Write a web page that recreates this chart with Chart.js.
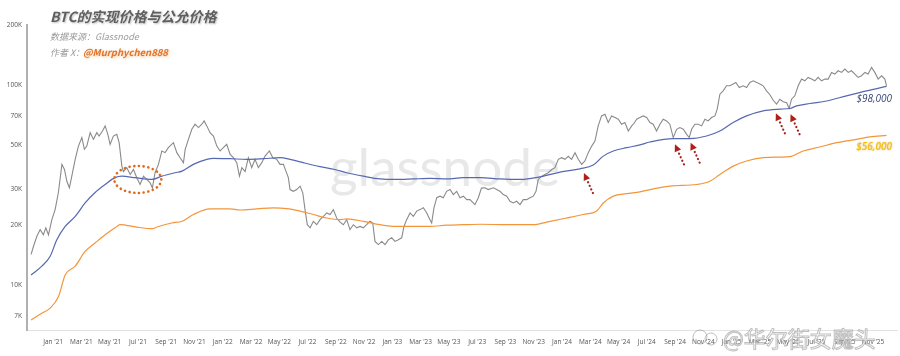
<!DOCTYPE html>
<html>
<head>
<meta charset="utf-8">
<script src="https://cdn.jsdelivr.net/npm/chart.js@4.4.1/dist/chart.umd.min.js"></script>
<style>
    html, body { margin: 0; padding: 0; background: #fff; }
    #wrap { width: 900px; height: 356px; }
</style>
</head>
<body>
<div id="wrap"><canvas id="chart" width="900" height="356"></canvas></div>
<script>
// month offsets from Jan 2021 (0 = Jan '21), values in thousands of USD
const priceMonths = [
    -1.56, -1.39, -1.15, -0.92, -0.69, -0.52, -0.33, -0.09, 0.14, 0.37,
    0.62, 0.80, 0.97, 1.15, 1.32, 1.56, 1.79, 2.03, 2.21, 2.38,
    2.62, 2.85, 3.09, 3.25, 3.49, 3.68, 3.87, 4.03, 4.26, 4.50,
    4.67, 4.86, 4.97, 5.21, 5.45, 5.68, 5.92, 6.15, 6.39, 6.63,
    6.86, 7.02, 7.21, 7.45, 7.69, 7.92, 8.15, 8.51, 8.75, 8.98,
    9.22, 9.34, 9.57, 9.81, 10.04, 10.28, 10.52, 10.68, 10.87, 11.10,
    11.34, 11.58, 11.81, 12.04, 12.28, 12.52, 12.75, 12.99, 13.18, 13.35,
    13.58, 13.81, 14.05, 14.28, 14.52, 14.76, 14.99, 15.30, 15.54, 15.82,
    16.05, 16.29, 16.48, 16.64, 16.76, 16.99, 17.23, 17.47, 17.66, 17.82,
    17.98, 18.18, 18.41, 18.65, 18.88, 19.12, 19.36, 19.59, 19.82, 20.06,
    20.30, 20.53, 20.77, 21.00, 21.24, 21.48, 21.71, 21.94, 22.18, 22.42,
    22.61, 22.77, 23.01, 23.25, 23.48, 23.71, 23.95, 24.19, 24.42, 24.66,
    24.82, 25.01, 25.25, 25.48, 25.72, 25.95, 26.19, 26.43, 26.66, 26.78,
    26.94, 27.14, 27.37, 27.60, 27.84, 28.08, 28.31, 28.55, 28.78, 29.02,
    29.26, 29.49, 29.84, 30.08, 30.30, 30.55, 30.78, 31.14, 31.38, 31.61,
    31.85, 32.09, 32.32, 32.55, 32.79, 33.03, 33.26, 33.50, 33.73, 33.97,
    34.16, 34.32, 34.56, 34.79, 35.03, 35.27, 35.50, 35.74, 35.98, 36.21,
    36.44, 36.68, 36.92, 37.15, 37.39, 37.62, 37.86, 38.10, 38.33, 38.56,
    38.80, 39.04, 39.27, 39.51, 39.75, 39.98, 40.22, 40.45, 40.69, 40.93,
    41.10, 41.28, 41.51, 41.75, 41.99, 42.22, 42.45, 42.69, 42.93, 43.16,
    43.40, 43.63, 43.87, 44.11, 44.34, 44.58, 44.82, 45.00, 45.17, 45.40,
    45.64, 45.88, 46.11, 46.34, 46.58, 46.82, 46.98, 47.17, 47.40, 47.64,
    47.88, 48.11, 48.30, 48.54, 48.82, 49.06, 49.29, 49.53, 49.77, 50.00,
    50.23, 50.47, 50.71, 50.94, 51.18, 51.41, 51.65, 51.89, 52.07, 52.24,
    52.47, 52.71, 52.95, 53.18, 53.41, 53.65, 53.89, 54.12, 54.36, 54.60,
    54.83, 55.07, 55.30, 55.54, 55.78, 56.01, 56.25, 56.48, 56.72, 56.95,
    57.19, 57.43, 57.66, 57.90, 58.13, 58.37, 58.61, 58.84, 58.96
];
const priceValues = [
    14.2, 15.6, 17.5, 18.9, 17.8, 19.3, 17.8, 21.2, 23.8, 29.0,
    40.1, 37.8, 33.0, 30.6, 35.0, 42.5, 49.5, 54.6, 47.7, 49.5,
    57.8, 53.5, 57.8, 55.6, 58.9, 62.5, 56.7, 50.5, 55.6, 56.7,
    51.5, 39.3, 36.9, 38.6, 35.7, 37.8, 34.4, 31.8, 35.0, 33.7,
    32.4, 30.6, 36.4, 40.1, 46.8, 45.9, 48.6, 51.5, 45.9, 43.3,
    40.9, 47.7, 53.5, 60.1, 63.7, 61.3, 63.7, 66.2, 62.5, 57.8,
    55.6, 49.5, 46.8, 48.6, 50.5, 45.0, 43.3, 40.9, 35.0, 38.6,
    36.9, 43.3, 38.6, 42.5, 38.6, 40.9, 44.1, 46.8, 43.3, 42.5,
    40.1, 40.1, 36.9, 34.4, 30.0, 29.4, 30.0, 31.2, 28.9, 23.8,
    20.0, 19.3, 20.8, 20.0, 21.2, 22.0, 22.9, 22.5, 23.8, 21.6,
    20.6, 20.0, 21.2, 18.9, 20.0, 19.3, 19.6, 19.3, 20.0, 20.8,
    20.4, 16.5, 15.9, 16.5, 15.9, 16.8, 17.2, 16.5, 16.8, 17.2,
    19.6, 21.2, 22.9, 22.0, 23.4, 23.8, 24.3, 22.9, 21.2, 20.4,
    24.3, 27.3, 27.8, 27.3, 29.4, 30.0, 28.3, 29.4, 27.3, 27.8,
    26.7, 26.7, 25.2, 27.3, 30.5, 30.6, 30.0, 30.6, 30.0, 29.4,
    28.3, 27.8, 26.2, 25.7, 26.2, 25.2, 26.7, 26.7, 27.3, 27.8,
    29.4, 33.7, 35.0, 35.7, 36.4, 37.8, 38.6, 42.5, 43.3, 42.5,
    44.0, 42.5, 45.9, 42.5, 40.1, 41.7, 45.9, 49.5, 52.5, 62.5,
    70.1, 71.5, 65.0, 70.1, 68.8, 67.5, 63.7, 65.0, 58.9, 62.5,
    64.4, 67.5, 68.8, 70.1, 68.8, 65.0, 63.7, 58.9, 63.7, 67.5,
    66.2, 63.7, 54.6, 60.1, 61.3, 60.1, 56.7, 54.6, 60.1, 63.7,
    63.7, 62.5, 67.5, 66.2, 68.8, 70.1, 75.8, 90.1, 93.6, 99.2,
    99.2, 101.2, 103.2, 97.3, 99.2, 97.3, 103.2, 105.1, 103.2, 101.2,
    99.2, 93.6, 89.5, 84.0, 80.3, 85.0, 82.5, 81.6, 76.5, 85.0,
    88.4, 99.2, 107.2, 105.1, 109.3, 107.2, 105.1, 109.3, 105.1, 107.2,
    107.2, 115.8, 113.6, 118.0, 115.8, 120.3, 115.8, 118.0, 113.6, 109.3,
    111.4, 115.8, 113.6, 122.7, 115.8, 107.2, 111.4, 107.2, 99.2
];

// 公允价格 (blue)
const fairMonths = [
    -1.56, -0.80, -0.21, 0.26, 0.85, 1.56, 2.26, 2.97, 3.68, 4.38,
    4.86, 5.80, 6.98, 7.69, 8.63, 9.12, 9.92, 10.87, 11.34, 12.52,
    13.70, 14.87, 16.05, 16.76, 17.70, 18.88, 19.94, 20.77, 21.94, 23.13,
    24.31, 25.48, 26.66, 27.84, 29.02, 30.21, 31.61, 33.03, 34.44, 35.86,
    37.27, 38.21, 38.92, 39.63, 40.57, 41.51, 42.22, 43.87, 45.05, 46.23,
    47.17, 48.11, 49.06, 50.23, 51.41, 52.12, 52.59, 53.54, 54.72, 56.13,
    57.55, 58.96
];
const fairValues = [
    11.2, 12.4, 13.9, 16.8, 19.6, 22.0, 25.7, 29.0, 31.8, 34.4,
    35.0, 34.4, 33.7, 35.0, 36.4, 37.1, 40.1, 42.5, 43.0, 42.8,
    42.5, 42.8, 43.3, 42.5, 40.9, 39.1, 37.8, 36.4, 35.0, 33.9,
    33.7, 33.9, 34.1, 33.9, 34.4, 34.4, 33.9, 33.7, 34.7, 36.7,
    38.1, 39.8, 44.1, 46.8, 48.6, 50.2, 51.9, 54.0, 54.0, 55.6,
    58.9, 65.0, 70.1, 74.3, 75.8, 76.4, 78.7, 80.9, 83.3, 88.4,
    93.6, 98.5
];

// 实现价格 (orange)
const realizedMonths = [
    -1.56, -0.80, -0.21, 0.38, 0.85, 1.56, 2.26, 2.97, 3.68, 4.38,
    4.74, 5.80, 6.98, 7.45, 8.39, 9.12, 9.92, 11.10, 12.52, 13.23,
    14.41, 15.58, 16.53, 17.47, 18.41, 19.36, 20.30, 20.77, 21.94, 23.13,
    24.31, 25.48, 26.66, 27.84, 29.02, 30.21, 32.09, 33.97, 34.91, 36.33,
    37.50, 38.45, 38.92, 39.63, 40.57, 41.51, 42.22, 43.63, 45.52, 46.46,
    47.17, 48.11, 49.06, 50.23, 51.41, 52.12, 53.06, 54.24, 55.42, 56.84,
    57.78, 58.96
];
const realizedValues = [
    6.67, 7.21, 7.64, 8.73, 11.2, 12.4, 14.7, 16.2, 17.8, 19.3,
    20.0, 19.5, 19.1, 19.6, 20.4, 20.8, 22.5, 24.0, 24.0, 23.7,
    24.0, 24.3, 24.1, 23.4, 22.5, 21.6, 21.2, 21.4, 20.8, 20.0,
    19.6, 19.6, 19.6, 19.9, 20.0, 20.1, 20.0, 20.0, 20.6, 21.6,
    22.5, 23.4, 25.7, 27.8, 28.6, 29.2, 30.0, 31.2, 31.8, 33.0,
    35.7, 39.3, 41.7, 43.3, 43.6, 43.8, 46.8, 49.0, 51.5, 53.5,
    55.0, 56.0
];

const xTickLabels = [
    "Jan '21", "Mar '21", "May '21", "Jul '21", "Sep '21", "Nov '21",
    "Jan '22", "Mar '22", "May '22", "Jul '22", "Sep '22", "Nov '22",
    "Jan '23", "Mar '23", "May '23", "Jul '23", "Sep '23", "Nov '23",
    "Jan '24", "Mar '24", "May '24", "Jul '24", "Sep '24", "Nov '24",
    "Jan '25", "Mar '25", "May '25", "Jul '25", "Sep '25", "Nov '25"
];
const yTickValues = [7, 10, 20, 30, 50, 70, 100, 200];

// touch points marked by the red arrows, and the circled zone of 2021
const arrowPoints = [
    { m: 37.55, v: 36.3 },
    { m: 43.99, v: 50.5 },
    { m: 45.10, v: 51.5 },
    { m: 51.13, v: 72.3 },
    { m: 52.17, v: 71.5 }
];
const circledZone = { m: 5.99, v: 33.7 };

function toPoints(months, values) {
    return months.map(function (m, i) {
        return { x: m, y: values[i] };
    });
}

function dottedArrow(ctx, hx, hy) {
    const tx = hx + 9, ty = hy + 20;
    const ang = Math.atan2(hy - ty, hx - tx);
    ctx.save();
    ctx.strokeStyle = '#a3201c';
    ctx.fillStyle = '#b0201a';
    ctx.lineWidth = 2.2;
    ctx.lineCap = 'round';
    ctx.setLineDash([0.1, 3.8]);
    ctx.beginPath();
    ctx.moveTo(tx, ty);
    ctx.lineTo(hx - 7 * Math.cos(ang), hy - 7 * Math.sin(ang));
    ctx.stroke();
    ctx.setLineDash([]);
    ctx.beginPath();
    ctx.moveTo(hx, hy);
    ctx.lineTo(hx - 8 * Math.cos(ang - 0.45), hy - 8 * Math.sin(ang - 0.45));
    ctx.lineTo(hx - 8 * Math.cos(ang + 0.45), hy - 8 * Math.sin(ang + 0.45));
    ctx.closePath();
    ctx.fill();
    ctx.restore();
}

const overlayPlugin = {
    id: 'overlay',
    beforeDatasetsDraw(chart) {
        const ctx = chart.ctx;
        ctx.save();
        ctx.font = '50px Lato';
        const size = 50 * 230 / ctx.measureText('glassnode').width;
        ctx.font = size.toFixed(1) + 'px Lato';
        ctx.fillStyle = '#e8e8e8';
        ctx.fillText('glassnode', 330, 186);
        ctx.restore();
    },
    afterDraw(chart) {
        const ctx = chart.ctx;
        const xs = chart.scales.x, ys = chart.scales.y;
        const area = chart.chartArea;

        // dotted ellipse
        ctx.save();
        ctx.strokeStyle = '#e06a1e';
        ctx.lineWidth = 2.6;
        ctx.lineCap = 'round';
        ctx.setLineDash([0.1, 4.6]);
        ctx.beginPath();
        ctx.ellipse(xs.getPixelForValue(circledZone.m), ys.getPixelForValue(circledZone.v), 23.5, 13.5, 0, 0, Math.PI * 2);
        ctx.stroke();
        ctx.restore();

        arrowPoints.forEach(function (p) {
            dottedArrow(ctx, xs.getPixelForValue(p.m), ys.getPixelForValue(p.v));
        });

        // end labels
        const lastFair = fairValues[fairValues.length - 1];
        const lastReal = realizedValues[realizedValues.length - 1];
        ctx.save();
        ctx.textAlign = 'right';
        ctx.font = 'italic 10px "Open Sans"';
        ctx.fillStyle = '#3b4a78';
        ctx.fillText('$98,000', area.right - 5, ys.getPixelForValue(lastFair) + 16);
        ctx.font = 'italic 600 10px "Open Sans"';
        ctx.shadowColor = 'rgba(200,140,0,0.6)';
        ctx.shadowBlur = 2;
        ctx.fillStyle = '#f5c116';
        ctx.fillText('$56,000', area.right - 5, ys.getPixelForValue(lastReal) + 15);
        ctx.restore();

        // title block
        ctx.save();
        ctx.textAlign = 'left';
        ctx.shadowColor = 'rgba(0,0,0,0.25)';
        ctx.shadowBlur = 2;
        ctx.shadowOffsetX = 1;
        ctx.shadowOffsetY = 1;
        ctx.font = 'italic bold 14px "Noto Sans CJK SC"';
        ctx.fillStyle = '#5f5f5f';
        ctx.fillText('BTC的实现价格与公允价格', 50, 22);
        ctx.shadowColor = 'transparent';
        ctx.font = 'italic 9px "Noto Sans CJK SC"';
        ctx.fillStyle = '#9a9a9a';
        ctx.fillText('数据来源：Glassnode', 50, 40);
        ctx.fillText('作者 X：', 50, 56);
        ctx.font = 'italic bold 9.5px "Noto Sans CJK SC"';
        ctx.shadowColor = 'rgba(240,150,60,0.5)';
        ctx.shadowBlur = 3;
        ctx.fillStyle = '#e2742a';
        ctx.fillText('@Murphychen888', 83, 56);
        ctx.restore();

        // corner watermark
        ctx.save();
        ctx.font = '22px "Noto Sans CJK SC"';
        ctx.lineWidth = 1;
        ctx.strokeStyle = 'rgba(140,140,140,0.55)';
        ctx.fillStyle = 'rgba(255,255,255,0.75)';
        ctx.fillText('@华尔街女魔头', 723, 347);
        ctx.strokeText('@华尔街女魔头', 723, 347);
        ctx.beginPath();
        ctx.arc(700, 337, 7, 0, Math.PI * 2);
        ctx.moveTo(717, 339);
        ctx.arc(711, 339, 6, 0, Math.PI * 2);
        ctx.stroke();
        ctx.restore();
    }
};

new Chart(document.getElementById('chart').getContext('2d'), {
    type: 'line',
    data: {
        datasets: [
            {
                label: 'BTC',
                data: toPoints(priceMonths, priceValues),
                borderColor: '#8a8a8a',
                borderWidth: 1.1,
                pointRadius: 0,
                order: 3
            },
            {
                label: '公允价格',
                data: toPoints(fairMonths, fairValues),
                borderColor: '#5669b0',
                borderWidth: 1.2,
                pointRadius: 0,
                cubicInterpolationMode: 'monotone',
                order: 2
            },
            {
                label: '实现价格',
                data: toPoints(realizedMonths, realizedValues),
                borderColor: '#f3953a',
                borderWidth: 1.2,
                pointRadius: 0,
                cubicInterpolationMode: 'monotone',
                order: 1
            }
        ]
    },
    options: {
        responsive: false,
        animation: false,
        devicePixelRatio: 1,
        layout: { padding: { top: 25, right: 3, left: 0, bottom: 0 } },
        plugins: {
            legend: { display: false },
            tooltip: { enabled: false }
        },
        scales: {
            x: {
                type: 'linear',
                min: -1.85,
                max: 59.7,
                afterBuildTicks: function (scale) {
                    scale.ticks = xTickLabels.map(function (_, i) {
                        return { value: i * 2 };
                    });
                },
                afterFit: function (scale) {
                    scale.height = 26;
                },
                ticks: {
                    autoSkip: false,
                    maxRotation: 0,
                    padding: 8,
                    color: '#555',
                    font: { family: '"Open Sans"', size: 6.5 },
                    callback: function (value, index) {
                        return xTickLabels[index];
                    }
                },
                grid: { display: false, drawTicks: false },
                border: { color: '#e2e2e2', width: 1 }
            },
            y: {
                type: 'logarithmic',
                min: 5.94,
                max: 200,
                afterBuildTicks: function (scale) {
                    scale.ticks = yTickValues.map(function (v) {
                        return { value: v };
                    });
                },
                afterFit: function (scale) {
                    scale.width = 27;
                },
                ticks: {
                    padding: 5,
                    color: '#555',
                    font: { family: '"Open Sans"', size: 6.5 },
                    callback: function (value) {
                        return value + 'K';
                    }
                },
                grid: { display: false, drawTicks: false },
                border: { color: '#b0b0b0', width: 2 }
            }
        }
    },
    plugins: [overlayPlugin]
});
</script>
</body>
</html>
